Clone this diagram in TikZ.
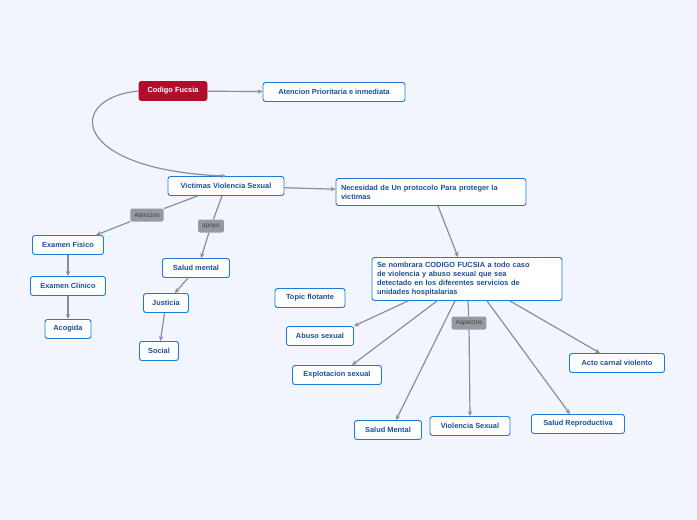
\documentclass[tikz,border=0pt]{standalone}
\usepackage{fontspec}
\setmainfont{Liberation Sans}
\usetikzlibrary{arrows.meta}
\definecolor{bg}{HTML}{F2F5FD}
\definecolor{bd}{HTML}{1C7AD9}
\definecolor{tx}{HTML}{1A4F9C}
\definecolor{red}{HTML}{B00E2A}
\definecolor{ln}{HTML}{8A8E96}
\begin{document}
\begin{tikzpicture}[x=1pt,y=-1pt,
  box/.style={draw=bd,fill=white,rounded corners=2.5pt,line width=0.9pt,font=\fontsize{7.4}{9}\selectfont\bfseries,text=tx,minimum height=19pt,inner xsep=5pt},
  wide/.style={box,align=left,text width=#1,anchor=center},
  tag/.style={fill=ln!90,rounded corners=2pt,font=\fontsize{6.5}{7}\selectfont,text=black!75,minimum height=13pt,inner xsep=4pt},
  con/.style={draw=ln,line width=1.2pt,-{Stealth[length=5pt,width=4.5pt]}},
  seg/.style={draw=ln,line width=1.2pt}]
\fill[bg] (0,0) rectangle (697,520);
\useasboundingbox (0,0) rectangle (697,520);
\node[box,fill=red,draw=red,text=white,minimum width=68pt] (cf) at (173,91) {Codigo Fucsia};
\node[box,minimum width=142pt] (ap) at (334,92) {Atencion Prioritaria e inmediata};
\node[box,minimum width=116pt] (vv) at (226,186) {Victimas Violencia Sexual};
\node[wide=180pt,minimum height=27pt] (ne) at (431,192) {Necesidad de Un protocolo Para proteger la\\victimas};
\node[tag] (at) at (147,215) {Atencion};
\node[tag] (apo) at (211,226) {apoyo};
\node[box,minimum width=71pt] (ef) at (68,245) {Examen Fisico};
\node[box,minimum width=75pt] (ec) at (68,286) {Examen Clinico};
\node[box,minimum width=46pt] (ac) at (68,329) {Acogida};
\node[box,minimum width=67pt] (sm) at (196,268) {Salud mental};
\node[box,minimum width=45pt] (ju) at (166,303) {Justicia};
\node[box,minimum width=39pt] (so) at (159,351) {Social};
\node[wide=180pt,minimum height=43pt] (sn) at (467,279) {Se nombrara CODIGO FUCSIA a todo caso\\de violencia y abuso sexual que sea\\detectado en los diferentes servicios de\\unidades hospitalarias};
\node[box,minimum width=70pt] (tf) at (310,298) {Topic flotante};
\node[tag] (as) at (469,323) {Aspectos};
\node[box,minimum width=67pt] (abs) at (320,336) {Abuso sexual};
\node[box,minimum width=89pt] (exs) at (337,375) {Explotacion sexual};
\node[box,minimum width=67pt] (smt) at (388,430) {Salud Mental};
\node[box,minimum width=80pt] (vis) at (470,426) {Violencia Sexual};
\node[box,minimum width=93pt] (sr) at (578,424) {Salud Reproductiva};
\node[box,minimum width=95pt] (acv) at (617,363) {Acto carnal violento};
\draw[con] (cf) -- (ap);
\draw[con] (cf.west) .. controls (65,98) and (70,170) .. (vv.north);
\draw[con] (vv) -- (ne);
\draw[seg] (vv.south west)++(30,0) -- (at);
\draw[con] (at) -- ([xshift=28pt]ef.north);
\draw[seg] ([xshift=-4pt]vv.south) -- (apo);
\draw[con] (apo) -- ([xshift=5pt]sm.north);
\draw[con] (ef) -- (ec);
\draw[con] (ec) -- (ac);
\draw[con] ([xshift=-8pt]sm.south) -- (ju);
\draw[con] (ju) -- (so);
\draw[con] ([xshift=7pt]ne.south) -- ([xshift=-9pt]sn.north);
\draw[con] ([xshift=-59pt]sn.south) -- (abs.north east);
\draw[con] ([xshift=-30pt]sn.south) -- ([xshift=15pt]exs.north);
\draw[con] ([xshift=-12pt]sn.south) -- ([xshift=8pt]smt.north);
\draw[seg] ([xshift=1pt]sn.south) -- (as);
\draw[con] (as) -- (vis.north);
\draw[con] ([xshift=20pt]sn.south) -- ([xshift=-8pt]sr.north);
\draw[con] ([xshift=43pt]sn.south) -- ([xshift=-17pt]acv.north);
\end{tikzpicture}
\end{document}
